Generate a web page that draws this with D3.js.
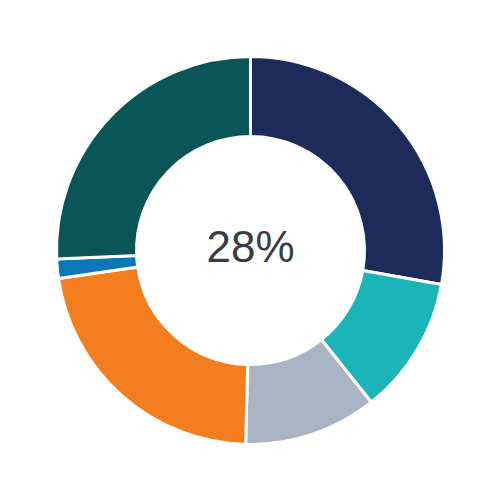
<!DOCTYPE html>
<html>
<head>
<meta charset="utf-8">
<script src="https://cdn.jsdelivr.net/npm/d3@7"></script>
<style>
  html, body { margin: 0; padding: 0; background: #fff; }
</style>
</head>
<body>
<div id="chart"></div>
<script>
// Data
const categories = ['A', 'B', 'C', 'D', 'E', 'F']
const values = [27.8, 11.5, 11.1, 22.3, 1.6, 25.7]
const colors = ['#1c2b5b', '#1bb5b9', '#a9b4c2', '#f47d20', '#0b76b8', '#0a5557']
const centerLabel = '28%'

const dataset = categories.map((name, i) => ({ name, value: values[i] }))

// Dimensions
const dimensions = {
  width: 500,
  height: 500,
  outer: 194,
  inner: 114
}

const svg = d3.select('#chart')
  .append('svg')
  .attr('width', dimensions.width)
  .attr('height', dimensions.height)

const ctr = svg.append('g')
  .attr('transform', `translate(250.5, 250.5)`)

// Scales
const pie = d3.pie()
  .value(d => d.value)
  .sort(null)
const slices = pie(dataset)

const arc = d3.arc()
  .outerRadius(dimensions.outer)
  .innerRadius(dimensions.inner)

const colorScale = d3.scaleOrdinal()
  .domain(categories)
  .range(colors)

// Draw Shape
ctr.selectAll('path')
  .data(slices)
  .join('path')
  .attr('d', arc)
  .attr('fill', d => colorScale(d.data.name))
  .attr('stroke', '#fff')
  .attr('stroke-width', 3)

// center label
ctr.append('text')
  .attr('x', 0)
  .attr('y', 11.5)
  .attr('text-anchor', 'middle')
  .attr('fill', '#383d45')
  .style('font-family', '"Liberation Sans", Arial, sans-serif')
  .style('font-size', '44px')
  .text(centerLabel)
</script>
</body>
</html>
